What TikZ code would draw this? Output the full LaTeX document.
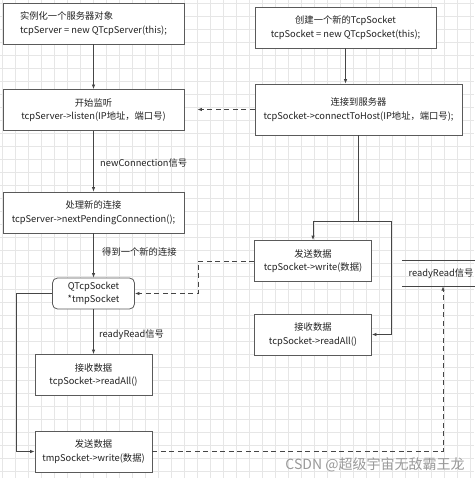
\documentclass[tikz,border=0pt]{standalone}
\usepackage{fontspec}
\setmainfont{Noto Sans CJK SC}
\usepackage{xcolor}
\definecolor{gridgray}{HTML}{E6E6E6}
\definecolor{edgegray}{HTML}{5A5A5A}
\definecolor{wiregray}{HTML}{454545}
\definecolor{inkdark}{HTML}{222222}
\definecolor{markgray}{HTML}{9A9A9A}
\usetikzlibrary{arrows.meta,calc}

\begin{document}
\begin{tikzpicture}[
  x=1pt, y=-1pt,
  font=\fontsize{9.3}{13.5}\selectfont,
  widebox/.style={
    draw=edgegray, line width=0.8pt, fill=white, text=inkdark,
    minimum width=181pt, minimum height=41pt,
    align=center, inner sep=2pt,
  },
  smallbox/.style={widebox, minimum width=117pt},
  sockbox/.style={widebox, minimum width=82pt, minimum height=31pt,
    rounded corners=5pt},
  storebox/.style={text=inkdark, minimum width=78pt, minimum height=25pt,
    inner sep=0pt},
  tag/.style={anchor=west, text=inkdark, inner sep=1pt},
  wire/.style={draw=wiregray, line width=0.8pt},
  link/.style={wire, -{Latex[length=4.5pt,width=3.5pt]}},
  dlink/.style={link, dash pattern=on 5pt off 3.5pt},
]

% === PAGE AND GRID ===
\fill[white] (0,0) rectangle (474,478);
\useasboundingbox (0,0) rectangle (474,478);
\foreach \gx in {2,15,...,470}
  \draw[gridgray, line width=0.5pt] (\gx,0) -- (\gx,478);
\foreach \gy in {3,16,...,471}
  \draw[gridgray, line width=0.5pt] (0,\gy) -- (474,\gy);

% === SERVER SIDE ===
\node[widebox, align=left] (srvNew) at (93.5,23.5)
  {实例化一个服务器对象\\tcpServer = new QTcpServer(this);};
\node[widebox] (srvListen) at (93.5,110)
  {开始监听\\tcpServer->listen(IP地址，端口号)};
\node[widebox] (srvPending) at (93.5,212.5)
  {处理新的连接\\tcpServer->nextPendingConnection();};
\node[sockbox] (srvSock) at (93.5,293.5) {QTcpSocket\\*tmpSocket};
\node[smallbox] (srvRead) at (93.5,375) {接收数据\\tcpSocket->readAll()};
\node[smallbox] (srvWrite) at (93.5,451.5) {发送数据\\tmpSocket->write(数据)};

% === CLIENT SIDE ===
\node[widebox] (cliNew) at (345.5,27.5)
  {创建一个新的TcpSocket\\tcpSocket = new QTcpSocket(this);};
\node[widebox, minimum width=207pt, minimum height=51pt] (cliConn) at (358.5,109.5)
  {连接到服务器\\tcpSocket->connectToHost(IP地址，端口号);};
\node[smallbox] (cliWrite) at (313,261) {发送数据\\tcpSocket->write(数据)};
\node[smallbox] (cliRead) at (313,334.5) {接收数据\\tcpSocket->readAll()};
\node[storebox] (readyStore) at (441,273.5) {readyRead信号};
\draw[wire] (readyStore.north west) -- (readyStore.north east);
\draw[wire] (readyStore.south west) -- (readyStore.south east);
\coordinate (storeIn) at ($(readyStore.south)+(2,0)$);

% === LABELS ===
\node[tag] (lblConn) at (99,163) {newConnection信号};
\node[tag] (lblGot) at (101,252) {得到一个新的连接};
\node[tag] (lblReady) at (98,335) {readyRead信号};

% === CONNECTORS ===
\draw[link] (srvNew) -- (srvListen);
\draw[link] (srvListen) -- (srvPending);
\draw[link] (srvPending) -- (srvSock);
\draw[link] (srvSock) -- (srvRead);
\draw[link] (srvSock.west) -- ++(-36,0) |- (srvWrite.west);

\draw[link] (cliNew.south) -- (cliNew.south |- cliConn.north);
\coordinate (fork) at (358.5,221);
\draw[wire] (cliConn.south) -- (fork);
\draw[link] (fork) -| (cliWrite.north);
\draw[link] (fork) -- ++(33,0) |- (cliRead.east);

\draw[dlink, shorten >=13pt] (cliConn.west) -- (cliConn.west -| srvListen.east);
\draw[dlink] (cliWrite.west) -- ++(-56,0) |- (srvSock.east);
\draw[dlink] (srvWrite.east) -| (storeIn);

% === WATERMARK ===
\node[text=markgray, font=\fontsize{14}{16}\selectfont] (mark) at (375,465)
  {CSDN @超级宇宙无敌霸王龙};

\end{tikzpicture}
\end{document}
